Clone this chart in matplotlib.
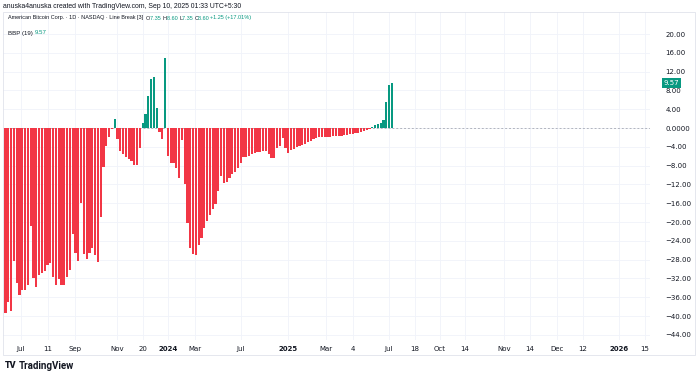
import matplotlib
matplotlib.use('Agg')
import matplotlib.pyplot as plt
from matplotlib.patches import Rectangle
import numpy as np

# BBP (19) values, one per line-break bar
bbp = [-39.3, -37.0, -38.9, -28.3, -33.0, -35.5, -34.5, -34.5, -33.5, -20.8,
       -32.0, -33.9, -31.3, -30.8, -30.4, -29.1, -28.7, -31.6, -33.3, -32.1,
       -33.3, -33.5, -31.6, -30.2, -22.5, -26.6, -28.3, -16.0, -26.7, -27.9,
       -26.5, -25.5, -27.1, -28.4, -19.0, -8.2, -3.8, -2.0, -0.2, 1.9,
       -2.3, -4.8, -5.5, -6.2, -6.5, -7.0, -7.9, -7.9, -4.2, 1.1,
       3.0, 6.8, 10.4, 10.8, 4.3, -0.9, -2.4, 15.0, -6.0, -7.5,
       -7.4, -8.4, -10.7, -2.6, -11.8, -20.3, -25.5, -26.7, -27.1, -24.9,
       -23.3, -21.3, -19.7, -18.5, -17.3, -16.2, -13.4, -10.2, -11.6, -11.4,
       -10.7, -9.8, -9.3, -8.6, -7.4, -6.1, -6.1, -5.9, -5.5, -5.2,
       -5.0, -5.0, -4.8, -4.8, -5.5, -6.4, -6.4, -4.3, -3.8, -2.2,
       -4.3, -5.2, -4.7, -4.4, -4.1, -3.8, -3.5, -3.3, -3.0, -2.7,
       -2.4, -2.1, -1.9, -1.8, -1.8, -1.8, -1.8, -1.75, -1.7, -1.7,
       -1.6, -1.5, -1.4, -1.3, -1.2, -1.1, -1.0, -0.8, -0.6, -0.4,
       -0.2, 0.3, 0.6, 0.85, 1.1, 1.7, 5.5, 9.2, 9.57]

# x-axis labels and their bar positions
tick_pos = [5.6, 15.2, 24.9, 39.9, 49.1, 58.1, 67.7, 84.1, 100.9, 114.5, 124.1,
            137, 146.3, 155.2, 164.1, 178, 187.4, 197, 206.3, 219.1, 228.4]
tick_lbl = ['Jul', '11', 'Sep', 'Nov', '20', '2024', 'Mar', 'Jul', '2025', 'Mar', '4',
            'Jul', '18', 'Oct', '14', 'Nov', '14', 'Dec', '12', '2026', '15']
bold_lbl = ['2024', '2025', '2026']

y_ticks = list(range(-44, 21, 4))

RED = '#F23645'
GREEN = '#089981'
TXT = '#131722'
GRID = '#F0F3FA'

W, H = 700, 377
fig = plt.figure(figsize=(W / 100, H / 100), dpi=100)
fig.patch.set_facecolor('white')

def px(x0, y0, x1, y1):
    return [x0 / W, 1 - y1 / H, (x1 - x0) / W, (y1 - y0) / H]

ax = fig.add_axes(px(3, 12, 650, 340))
vals = np.array(bbp)
x = np.arange(len(vals))
colors = [GREEN if v > 0 else RED for v in vals]
ax.bar(x, vals, width=0.78, color=colors, edgecolor='none', zorder=3)

ax.set_xlim(-0.86, 230.2)
ax.set_ylim(-45.1, 24.7)

ax.axhline(0, color='#B2B5BE', lw=0.7, ls=(0, (2, 2)), zorder=2)

ax.set_yticks(y_ticks)
ylabels = []
for t in y_ticks:
    if t == 0:
        ylabels.append('0.0000')
    else:
        ylabels.append(('%.2f' % t).replace('-', '\u2212'))
ax.set_yticklabels(ylabels)
ax.yaxis.tick_right()
ax.tick_params(axis='y', length=0, pad=11, labelsize=5, labelcolor=TXT)
for lab in ax.get_yticklabels():
    lab.set_horizontalalignment('left')

ax.set_xticks(tick_pos)
ax.set_xticklabels(tick_lbl)
ax.tick_params(axis='x', length=0, pad=4, labelsize=5, labelcolor=TXT)
for lab in ax.get_xticklabels():
    if lab.get_text() in bold_lbl:
        lab.set_fontweight('bold')

ax.grid(True, color=GRID, lw=0.6, zorder=0)
for s in ax.spines.values():
    s.set_visible(False)

# last value tag
ax.annotate('%.2f' % vals[-1], xy=(1.0, vals[-1]), xycoords=('axes fraction', 'data'),
            xytext=(10, 0), textcoords='offset points', ha='left', va='center',
            fontsize=5, color='white',
            bbox=dict(boxstyle='square,pad=0.25', fc=GREEN, ec='none'))

# panel border
fig.add_artist(Rectangle((3 / W, 1 - 355 / H), 692 / W, 343 / H, transform=fig.transFigure,
                         fill=False, ec='#E0E3EB', lw=0.6))

fig.canvas.draw()
renderer = fig.canvas.get_renderer()

def run_text(x0, y0, pieces, size=4.6):
    xx = x0
    for s, c in pieces:
        t = fig.text(xx / W, 1 - y0 / H, s, color=c, fontsize=size, va='center', ha='left',
                     family='Liberation Sans')
        bb = t.get_window_extent(renderer)
        xx += bb.width

run_text(3, 6, [('anuska4anuska created with TradingView.com, Sep 10, 2025 01:33 UTC+5:30', TXT)],
         size=4.95)
run_text(8, 18, [('American Bitcoin Corp. \u00b7 1D \u00b7 NASDAQ \u00b7 Line Break [3]  ', TXT),
                 ('O', TXT), ('7.35 ', GREEN), ('H', TXT), ('8.60 ', GREEN),
                 ('L', TXT), ('7.35 ', GREEN), ('C', TXT), ('8.60 ', GREEN),
                 ('+1.25 (+17.01%)', GREEN)], size=3.95)
run_text(8, 33, [('BBP (19) ', TXT), ('9.57', GREEN)], size=4.4)

fig.text(5 / W, 1 - 366 / H, 'TV', fontsize=6.5, fontweight='heavy', color=TXT, va='center',
         family='Roboto')
fig.text(19 / W, 1 - 366 / H, 'TradingView', fontsize=7, fontweight='bold', color=TXT,
         va='center', family='Roboto')

fig.savefig('out.png', dpi=100, facecolor='white')
